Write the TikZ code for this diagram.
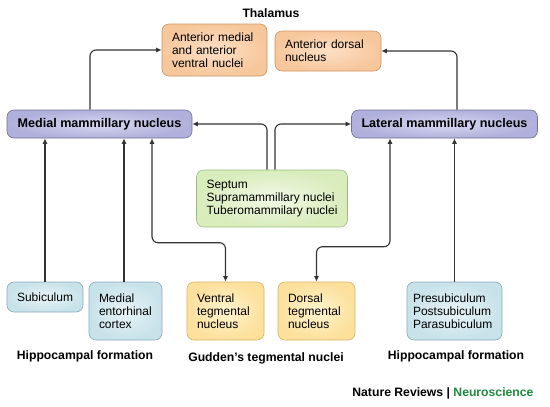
\documentclass[tikz,border=0pt]{standalone}
\usepackage{fontspec}
\setmainfont{Liberation Sans}
\usepackage{tikz}
\usetikzlibrary{arrows.meta,positioning,calc}

\definecolor{mamfill}{HTML}{D8D8F2}
\definecolor{mamedge}{HTML}{B0B0DC}
\definecolor{mamline}{HTML}{6E6E96}
\definecolor{thalfill}{HTML}{FDE0C6}
\definecolor{thaledge}{HTML}{F7C79C}
\definecolor{thalline}{HTML}{CC9466}
\definecolor{sepfill}{HTML}{F2F9E6}
\definecolor{sepedge}{HTML}{D8ECBC}
\definecolor{sepline}{HTML}{9CBC7E}
\definecolor{hipfill}{HTML}{E8F4F7}
\definecolor{hipedge}{HTML}{C8E2EA}
\definecolor{hipline}{HTML}{8AAAB8}
\definecolor{tegfill}{HTML}{FFF4CE}
\definecolor{tegedge}{HTML}{FCE09C}
\definecolor{tegline}{HTML}{D8B460}
\definecolor{linkgray}{HTML}{333333}
\definecolor{natgreen}{HTML}{1E8A3C}

\begin{document}
\begin{tikzpicture}[
      x=1pt, y=-1pt,
      >={Latex[length=5.5pt,width=5pt]},
      font=\fontsize{12}{13}\selectfont,
      box/.style={rounded corners=7pt, align=left, inner xsep=10pt, inner ysep=0pt, line width=0.6pt},
      mamm/.style={box, draw=mamline, inner color=mamfill, outer color=mamedge, align=center,
        minimum width=185pt, minimum height=28pt, font=\fontsize{12.6}{14}\selectfont\bfseries},
      thal/.style={box, draw=thalline, inner color=thalfill, outer color=thaledge},
      sept/.style={box, draw=sepline, inner color=sepfill, outer color=sepedge, minimum width=150pt, minimum height=57pt},
      hipp/.style={box, draw=hipline, inner color=hipfill, outer color=hipedge, minimum height=58pt},
      tegm/.style={box, draw=tegline, inner color=tegfill, outer color=tegedge, text width=57pt, minimum height=58pt},
      title/.style={font=\fontsize{12.2}{14}\selectfont\bfseries},
      link/.style={draw=linkgray, line width=1.1pt, rounded corners=6pt}
    ]
    \useasboundingbox (0,0) rectangle (550,407);

    \node[title] (thalamus) at (271,13) {Thalamus};
    \node[thal, text width=85pt, minimum height=52pt] (amv) at (214.5,50) {Anterior medial\\and anterior\\ventral nuclei};
    \node[thal, text width=86pt, minimum height=40pt] (ad) at (328,51) {Anterior dorsal\\nucleus};

    \node[mamm] (mmn) at (99.5,124) {Medial mammillary nucleus};
    \node[mamm] (lmn) at (444.5,124) {Lateral mammillary nucleus};

    \node[sept] (sep) at (272,198.5) {Septum\\Supramammillary nuclei\\Tuberomammilary nuclei};

    \node[hipp, text width=56pt, minimum height=30pt, align=center] (sub) at (45,297) {Subiculum};
    \node[hipp, text width=53pt] (ent) at (125.5,311) {Medial\\entorhinal\\cortex};
    \node[tegm] (vtn) at (225.5,311) {Ventral\\tegmental\\nucleus};
    \node[tegm] (dtn) at (316.5,311) {Dorsal\\tegmental\\nucleus};
    \node[hipp, inner xsep=6pt, text width=83pt] (pre) at (454.5,311) {Presubiculum\\Postsubiculum\\Parasubiculum};

    \node[title] (hipleft) at (85,356) {Hippocampal formation};
    \node[title] (gudden) at (266,358) {Gudden’s tegmental nuclei};
    \node[title] (hipright) at (456,356) {Hippocampal formation};
    \node[title, anchor=east] (journal) at (537,393) {Nature Reviews | \textcolor{natgreen}{Neuroscience}};

    \draw[link,->] ([xshift=-9.5pt]mmn.north) |- (amv.west);
    \draw[link,->] ([xshift=12.5pt]lmn.north) |- (ad.east);
    \draw[link,->] ([xshift=-5pt]sep.north) |- (mmn.east);
    \draw[link,->] ([xshift=3pt]sep.north) |- (lmn.west);
    \draw[link,->] (sub.north) -- (sub.north |- mmn.south);
    \draw[link,->] ([xshift=-1.5pt]ent.north) -- ([xshift=-1.5pt]ent.north |- mmn.south);
    \draw[link,<->] ([xshift=52.5pt]mmn.south) |- ([yshift=39pt]vtn.north) -- (vtn.north);
    \draw[link,<->] ([xshift=-54.5pt]lmn.south) |- ([yshift=35pt]dtn.north) -- (dtn.north);
    \draw[link,->] (pre.north) -- (pre.north |- lmn.south);
  \end{tikzpicture}
\end{document}
